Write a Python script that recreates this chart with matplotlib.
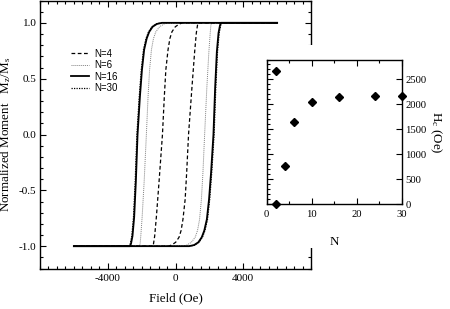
import matplotlib
matplotlib.use("Agg")
import matplotlib.pyplot as plt
from matplotlib.ticker import MultipleLocator
from matplotlib.patches import Rectangle

# ---------------- data ----------------
# Main panel: hysteresis loops, field H (Oe) vs normalized moment Mz/Ms
n4_desc_H = [6000, 430, 230, -10, -210, -330, -440, -570, -660, -770, -970, -1130, -1230, -1300, -1350, -6000]
n4_desc_M = [1.0, 1.0, 0.99, 0.965, 0.92, 0.86, 0.76, 0.58, 0.34, 0.0, -0.42, -0.74, -0.91, -0.98, -1.0, -1.0]
n4_asc_H = [-6000, -430, -230, 10, 210, 330, 440, 570, 660, 770, 970, 1130, 1230, 1300, 1350, 6000]
n4_asc_M = [-1.0, -1.0, -0.99, -0.965, -0.92, -0.86, -0.76, -0.58, -0.34, 0.0, 0.42, 0.74, 0.91, 0.98, 1.0, 1.0]

n6_desc_H = [6000, -420, -670, -940, -1160, -1300, -1420, -1530, -1620, -1720, -1850, -1970, -2050, -2090, -2120, -6000]
n6_desc_M = [1.0, 1.0, 0.99, 0.965, 0.92, 0.86, 0.76, 0.58, 0.34, 0.0, -0.42, -0.74, -0.91, -0.98, -1.0, -1.0]
n6_asc_H = [-6000, 420, 670, 940, 1160, 1300, 1420, 1530, 1620, 1720, 1850, 1970, 2050, 2090, 2120, 6000]
n6_asc_M = [-1.0, -1.0, -0.99, -0.965, -0.92, -0.86, -0.76, -0.58, -0.34, 0.0, 0.42, 0.74, 0.91, 0.98, 1.0, 1.0]

n16_desc_H = [6000, -800, -1100, -1350, -1550, -1700, -1850, -1980, -2100, -2240, -2340, -2440, -2540, -2630, -2700, -6000]
n16_desc_M = [1.0, 1.0, 0.99, 0.965, 0.92, 0.86, 0.76, 0.58, 0.34, 0.0, -0.42, -0.74, -0.91, -0.98, -1.0, -1.0]
n16_asc_H = [-6000, 800, 1100, 1350, 1550, 1700, 1850, 1980, 2100, 2240, 2340, 2440, 2540, 2630, 2700, 6000]
n16_asc_M = [-1.0, -1.0, -0.99, -0.965, -0.92, -0.86, -0.76, -0.58, -0.34, 0.0, 0.42, 0.74, 0.91, 0.98, 1.0, 1.0]

n30_desc_H = [6000, -840, -1140, -1390, -1590, -1740, -1890, -2020, -2140, -2280, -2380, -2480, -2580, -2670, -2740, -6000]
n30_desc_M = [1.0, 1.0, 0.99, 0.965, 0.92, 0.86, 0.76, 0.58, 0.34, 0.0, -0.42, -0.74, -0.91, -0.98, -1.0, -1.0]
n30_asc_H = [-6000, 840, 1140, 1390, 1590, 1740, 1890, 2020, 2140, 2280, 2380, 2480, 2580, 2670, 2740, 6000]
n30_asc_M = [-1.0, -1.0, -0.99, -0.965, -0.92, -0.86, -0.76, -0.58, -0.34, 0.0, 0.42, 0.74, 0.91, 0.98, 1.0, 1.0]

legend_labels = ["N=4", "N=6", "N=16", "N=30"]

# Inset: coercive field vs N
inset_N = [2, 2, 4, 6, 10, 16, 24, 30]
inset_Hc = [2670, 0, 760, 1640, 2050, 2140, 2160, 2160]

x_ticks = [-4000, 0, 4000]
y_ticks = [-1.0, -0.5, 0.0, 0.5, 1.0]
inset_x_ticks = [0, 10, 20, 30]
inset_y_ticks = [0, 500, 1000, 1500, 2000, 2500]

# ---------------- style ----------------
plt.rcParams["font.family"] = ["Liberation Serif", "DejaVu Serif"]
plt.rcParams["mathtext.fontset"] = "stix"

W, H = 450, 309
fig = plt.figure(figsize=(W / 100, H / 100), dpi=100)

def fx(px):
    return px / W

def fy(py):
    return 1 - py / H

ax = fig.add_axes([fx(40), fy(268.5), fx(311) - fx(40), fy(0.5) - fy(268.5)])

styles = [
    dict(color="black", lw=0.9, linestyle=(0, (3, 2))),
    dict(color="#808080", lw=0.7, linestyle=(0, (1, 1))),
    dict(color="black", lw=1.3, linestyle="-"),
    dict(color="black", lw=0.9, linestyle=(0, (1, 1))),
]
branches = [
    (n4_desc_H, n4_desc_M, n4_asc_H, n4_asc_M),
    (n6_desc_H, n6_desc_M, n6_asc_H, n6_asc_M),
    (n16_desc_H, n16_desc_M, n16_asc_H, n16_asc_M),
    (n30_desc_H, n30_desc_M, n30_asc_H, n30_asc_M),
]
for (dH, dM, aH, aM), st, lab in zip(branches, styles, legend_labels):
    ax.plot(dH, dM, label=lab, **st)
    ax.plot(aH, aM, **st)

ax.set_xlim(-8000, 8000)
ax.set_ylim(-1.2, 1.2)
ax.set_xticks(x_ticks)
ax.set_xticklabels(["-4000", "0", "4000"])
ax.set_yticks(y_ticks)
ax.set_yticklabels(["-1.0", "-0.5", "0.0", "0.5", "1.0"])
ax.xaxis.set_minor_locator(MultipleLocator(500))
ax.yaxis.set_minor_locator(MultipleLocator(0.1))
ax.tick_params(which="both", direction="in", top=True, right=True, width=0.8, labelsize=8)
ax.tick_params(which="major", length=4.5)
ax.tick_params(which="minor", length=2.5)
ax.tick_params(axis="x", pad=4)
ax.tick_params(axis="y", pad=2.5)
for s in ax.spines.values():
    s.set_linewidth(1.0)
ax.set_xlabel("Field (Oe)", fontsize=9.4, labelpad=7)
ax.set_ylabel(r"Normalized Moment   M$_\mathregular{z}$/M$_\mathregular{s}$", fontsize=9.4, labelpad=4)

leg = ax.legend(loc="upper left", bbox_to_anchor=((71 - 40) / 271, 1 - (48.6 - 0.5) / 268),
                frameon=False, borderpad=0, borderaxespad=0, handlelength=1.9,
                handletextpad=0.45, labelspacing=0.16,
                prop={"family": "Liberation Sans", "size": 7})

# white backdrop of the inset
fig.patches.append(Rectangle((fx(255), fy(248)), 1 - fx(255), fy(45) - fy(248),
                             transform=fig.transFigure, facecolor="white",
                             edgecolor="none", zorder=1))

ins = fig.add_axes([fx(266.7), fy(204.3), fx(401.7) - fx(266.7), fy(59.5) - fy(204.3)])
ins.set_zorder(2)
ins.plot(inset_N, inset_Hc, linestyle="none", marker="D", color="black",
         markersize=4.3, clip_on=False)
ins.set_xlim(0, 30)
ins.set_ylim(0, 2900)
ins.set_xticks(inset_x_ticks)
ins.set_yticks(inset_y_ticks)
ins.xaxis.set_minor_locator(MultipleLocator(5))
ins.yaxis.set_minor_locator(MultipleLocator(100))
ins.yaxis.tick_right()
ins.yaxis.set_label_position("right")
ins.tick_params(which="both", direction="in", top=True, bottom=True, left=True, right=True,
                labelleft=False, labelright=True, width=0.8, labelsize=7.7)
ins.tick_params(which="major", length=4.0)
ins.tick_params(which="minor", length=2.2, right=False)
ins.tick_params(axis="x", pad=4)
ins.tick_params(axis="y", pad=2.5)
for s in ins.spines.values():
    s.set_linewidth(1.0)
ins.set_xlabel("N", fontsize=9.4, labelpad=12)
ins.set_ylabel(r"H$_\mathregular{c}$ (Oe)", fontsize=9.4, rotation=270, labelpad=12)

fig.savefig("out.png", dpi=100)
